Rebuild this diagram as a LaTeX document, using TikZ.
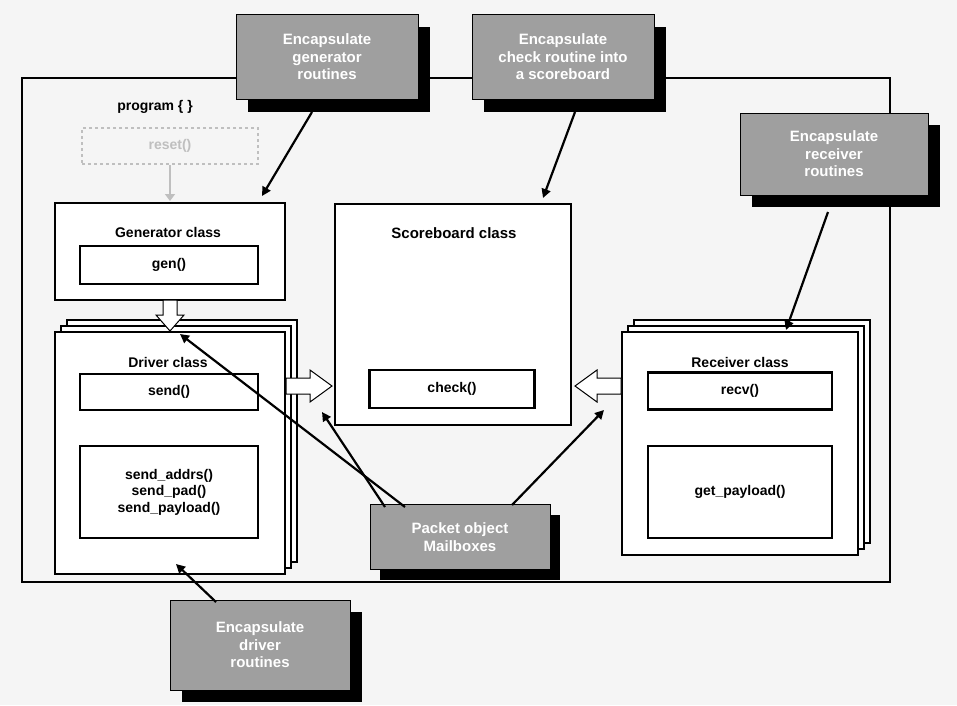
\documentclass[tikz,border=0pt]{standalone}
\usepackage{fontspec}
\setmainfont{Liberation Sans}
\usetikzlibrary{arrows.meta}
\begin{document}
\begin{tikzpicture}[x=1pt,y=-1pt,
  box/.style={draw=black,line width=2pt,fill=white},
  inbox/.style={draw=black,line width=2.4pt,fill=white},
  lbl/.style={font=\bfseries\fontsize{14}{16.5}\selectfont,align=center},
  call/.style={draw=black,line width=1pt,fill=gray!75,text=white,font=\bfseries\fontsize{15}{17.5}\selectfont,align=center},
  shad/.style={fill=black},
  arr/.style={line width=2.2pt,-{Triangle[length=9pt,width=9pt]}},
  hollow/.style={draw=black,line width=1pt,fill=white}]
\useasboundingbox (0,0) rectangle (957,705);
\fill[gray!8] (0,0) rectangle (957,705);
% outer frame
\draw[line width=2pt] (22,78) rectangle (890,582);
\node[lbl] (prog) at (155,107) {program \{ \}};
% reset
\node[draw=gray!50,dashed,line width=2pt,minimum width=176pt,minimum height=36pt,text=gray!50,lbl] (reset) at (170,146) {reset()};
% generator
\draw[box] (55,203) rectangle (285,300);
\node[lbl] (gent) at (168,232) {Generator class};
\node[inbox,minimum width=178pt,minimum height=38pt,lbl] (gen) at (169,265) {gen()};
\coordinate (gtop) at (170,201);
\draw[gray!50,line width=2pt,-{Triangle[length=7pt]}] (reset.south) -- (gtop);
% driver
\draw[box] (67,320) rectangle (297,562);
\draw[box] (61,326) rectangle (291,568);
\draw[box] (55,332) rectangle (285,574);
\node[lbl] (drvt) at (168,362) {Driver class};
\node[inbox,minimum width=178pt,minimum height=36pt,lbl] (send) at (169,392) {send()};
\node[inbox,minimum width=178pt,minimum height=92pt,lbl] (sendx) at (169,492) {send\_addrs()\\send\_pad()\\send\_payload()};
% hollow down arrow
\draw[hollow] (163,300) -- (177,300) -- (177,315) -- (184,315) -- (170,331) -- (156,315) -- (163,315) -- cycle;
% scoreboard
\draw[box] (335,204) rectangle (571,425);
\node[lbl,font=\bfseries\fontsize{15}{17}\selectfont] (sbt) at (454,233) {Scoreboard class};
\node[inbox,minimum width=165pt,minimum height=38pt,lbl] (check) at (452,389) {check()};
% receiver
\draw[box] (634,320) rectangle (870,543);
\draw[box] (628,326) rectangle (864,549);
\draw[box] (622,332) rectangle (858,555);
\node[lbl] (rcvt) at (740,362) {Receiver class};
\node[inbox,minimum width=184pt,minimum height=37pt,lbl] (recv) at (740,391) {recv()};
\node[inbox,minimum width=184pt,minimum height=92pt,lbl] (getp) at (740,492) {get\_payload()};
% hollow side arrows
\draw[hollow] (286,378) -- (310,378) -- (310,370) -- (332,386) -- (310,402) -- (310,394) -- (286,394) -- cycle;
\draw[hollow] (621,378) -- (597,378) -- (597,370) -- (575,386) -- (597,402) -- (597,394) -- (621,394) -- cycle;
% callouts
\fill[shad] (248,27) rectangle (430,112);
\node[call,minimum width=182pt,minimum height=85pt] (cgen) at (327,57) {Encapsulate\\generator\\routines};
\fill[shad] (484,27) rectangle (666,112);
\node[call,minimum width=182pt,minimum height=85pt] (cchk) at (563,57) {Encapsulate\\check routine into\\a scoreboard};
\fill[shad] (752,125) rectangle (940,207);
\node[call,minimum width=188pt,minimum height=82pt] (crcv) at (834,154) {Encapsulate\\receiver\\routines};
\fill[shad] (380,515) rectangle (560,580);
\node[call,minimum width=180pt,minimum height=65pt] (pkt) at (460,537) {Packet object\\Mailboxes};
\fill[shad] (182,612) rectangle (362,702);
\node[call,minimum width=180pt,minimum height=90pt] (cdrv) at (260,645) {Encapsulate\\driver\\routines};
% connectors
\coordinate (a1) at (262,196);
\draw[arr] (312,112) -- (a1);
\coordinate (a2) at (543,198);
\draw[arr] (575,112) -- (a2);
\coordinate (a3) at (786,330);
\draw[arr] (828,212) -- (a3);
\coordinate (a4) at (180,334);
\draw[arr] (405,507) -- (a4);
\coordinate (a5) at (322,412);
\draw[arr] (385,507) -- (a5);
\coordinate (a6) at (604,410);
\draw[arr] (512,505) -- (a6);
\coordinate (a7) at (176,564);
\draw[arr] (216,602) -- (a7);
\end{tikzpicture}
\end{document}
